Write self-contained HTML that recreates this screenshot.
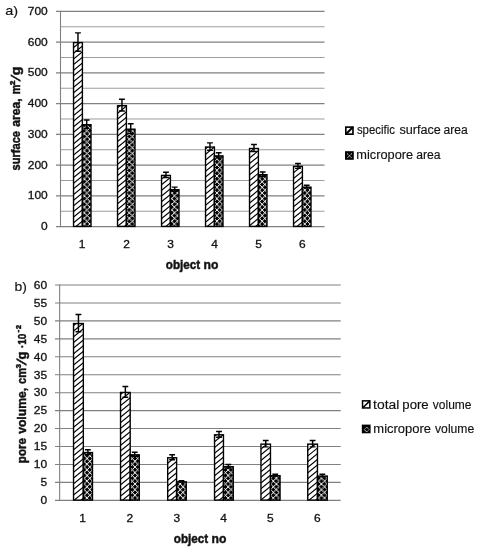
<!DOCTYPE html>
<html lang="en"><head><meta charset="utf-8"><title>Surface area and pore volume charts</title>
<style>
html,body{margin:0;padding:0;background:#fff;}
body{width:482px;height:550px;overflow:hidden;}
svg{display:block;font-family:"Liberation Sans", sans-serif;fill:#111;}
text{stroke:#111;stroke-width:0.15px;paint-order:stroke;}
text.b{stroke-width:0.45px;}
text.d{stroke-width:0.3px;}
</style></head><body>
<svg width="482" height="550" viewBox="0 0 482 550">
<rect width="482" height="550" fill="#fff"/>

<g shape-rendering="auto">
<line x1="60.5" x2="324.5" y1="211.27" y2="211.27" stroke="#9c9c9c" stroke-width="1.1"/>
<line x1="60.5" x2="324.5" y1="180.51" y2="180.51" stroke="#9c9c9c" stroke-width="1.1"/>
<line x1="60.5" x2="324.5" y1="149.76" y2="149.76" stroke="#9c9c9c" stroke-width="1.1"/>
<line x1="60.5" x2="324.5" y1="119.00" y2="119.00" stroke="#9c9c9c" stroke-width="1.1"/>
<line x1="60.5" x2="324.5" y1="88.24" y2="88.24" stroke="#9c9c9c" stroke-width="1.1"/>
<line x1="60.5" x2="324.5" y1="57.49" y2="57.49" stroke="#9c9c9c" stroke-width="1.1"/>
<line x1="60.5" x2="324.5" y1="26.73" y2="26.73" stroke="#9c9c9c" stroke-width="1.1"/>
<line x1="56.0" x2="324.5" y1="226.65" y2="226.65" stroke="#808080" stroke-width="1.1"/>
<line x1="56.0" x2="324.5" y1="195.89" y2="195.89" stroke="#808080" stroke-width="1.1"/>
<line x1="56.0" x2="324.5" y1="165.14" y2="165.14" stroke="#808080" stroke-width="1.1"/>
<line x1="56.0" x2="324.5" y1="134.38" y2="134.38" stroke="#808080" stroke-width="1.1"/>
<line x1="56.0" x2="324.5" y1="103.62" y2="103.62" stroke="#808080" stroke-width="1.1"/>
<line x1="56.0" x2="324.5" y1="72.86" y2="72.86" stroke="#808080" stroke-width="1.1"/>
<line x1="56.0" x2="324.5" y1="42.11" y2="42.11" stroke="#808080" stroke-width="1.1"/>
<line x1="56.0" x2="324.5" y1="11.35" y2="11.35" stroke="#808080" stroke-width="1.1"/>
<line x1="60.5" x2="60.5" y1="10.85" y2="227.15" stroke="#808080" stroke-width="1.1"/>
</g>
<text class="d" x="41.10" y="230.25" font-size="11.2" textLength="6.66" lengthAdjust="spacingAndGlyphs">0</text>
<text class="d" x="27.77" y="199.49" font-size="11.2" textLength="19.99" lengthAdjust="spacingAndGlyphs">100</text>
<text class="d" x="27.77" y="168.74" font-size="11.2" textLength="19.99" lengthAdjust="spacingAndGlyphs">200</text>
<text class="d" x="27.77" y="137.98" font-size="11.2" textLength="19.99" lengthAdjust="spacingAndGlyphs">300</text>
<text class="d" x="27.77" y="107.22" font-size="11.2" textLength="19.99" lengthAdjust="spacingAndGlyphs">400</text>
<text class="d" x="27.77" y="76.46" font-size="11.2" textLength="19.99" lengthAdjust="spacingAndGlyphs">500</text>
<text class="d" x="27.77" y="45.71" font-size="11.2" textLength="19.99" lengthAdjust="spacingAndGlyphs">600</text>
<text class="d" x="27.77" y="14.95" font-size="11.2" textLength="19.99" lengthAdjust="spacingAndGlyphs">700</text>
<text class="d" x="78.70" y="248.3" font-size="11.2" textLength="6.66" lengthAdjust="spacingAndGlyphs">1</text>
<text class="d" x="123.17" y="248.3" font-size="11.2" textLength="6.66" lengthAdjust="spacingAndGlyphs">2</text>
<text class="d" x="167.20" y="248.3" font-size="11.2" textLength="6.66" lengthAdjust="spacingAndGlyphs">3</text>
<text class="d" x="211.21" y="248.3" font-size="11.2" textLength="6.66" lengthAdjust="spacingAndGlyphs">4</text>
<text class="d" x="255.18" y="248.3" font-size="11.2" textLength="6.66" lengthAdjust="spacingAndGlyphs">5</text>
<text class="d" x="299.13" y="248.3" font-size="11.2" textLength="6.66" lengthAdjust="spacingAndGlyphs">6</text>
<clipPath id="ha"><rect x="73.54" y="42.61" width="8.85" height="183.79"/><rect x="117.54" y="105.66" width="8.85" height="120.74"/><rect x="161.54" y="175.42" width="8.85" height="50.98"/><rect x="205.54" y="147.06" width="8.85" height="79.34"/><rect x="249.54" y="148.50" width="8.85" height="77.90"/><rect x="293.54" y="166.40" width="8.85" height="60.00"/></clipPath>
<clipPath id="ca"><rect x="82.39" y="124.73" width="8.60" height="101.67"/><rect x="126.39" y="129.19" width="8.60" height="97.21"/><rect x="170.39" y="189.69" width="8.60" height="36.71"/><rect x="214.39" y="155.92" width="8.60" height="70.48"/><rect x="258.39" y="174.71" width="8.60" height="51.69"/><rect x="302.39" y="187.17" width="8.60" height="39.23"/></clipPath>
<g fill="#fff"><rect x="73.54" y="42.61" width="8.85" height="183.79"/><rect x="117.54" y="105.66" width="8.85" height="120.74"/><rect x="161.54" y="175.42" width="8.85" height="50.98"/><rect x="205.54" y="147.06" width="8.85" height="79.34"/><rect x="249.54" y="148.50" width="8.85" height="77.90"/><rect x="293.54" y="166.40" width="8.85" height="60.00"/></g>
<g fill="#000"><rect x="82.39" y="124.73" width="8.60" height="101.67"/><rect x="126.39" y="129.19" width="8.60" height="97.21"/><rect x="170.39" y="189.69" width="8.60" height="36.71"/><rect x="214.39" y="155.92" width="8.60" height="70.48"/><rect x="258.39" y="174.71" width="8.60" height="51.69"/><rect x="302.39" y="187.17" width="8.60" height="39.23"/></g>
<path clip-path="url(#ha)" d="M60.5 13.11L324.5 -202.84M60.5 18.76L324.5 -197.19M60.5 24.41L324.5 -191.54M60.5 30.06L324.5 -185.89M60.5 35.71L324.5 -180.24M60.5 41.36L324.5 -174.59M60.5 47.01L324.5 -168.94M60.5 52.66L324.5 -163.29M60.5 58.31L324.5 -157.64M60.5 63.96L324.5 -151.99M60.5 69.61L324.5 -146.34M60.5 75.26L324.5 -140.69M60.5 80.91L324.5 -135.04M60.5 86.56L324.5 -129.39M60.5 92.21L324.5 -123.74M60.5 97.86L324.5 -118.09M60.5 103.51L324.5 -112.44M60.5 109.16L324.5 -106.79M60.5 114.81L324.5 -101.14M60.5 120.46L324.5 -95.49M60.5 126.11L324.5 -89.84M60.5 131.76L324.5 -84.19M60.5 137.41L324.5 -78.54M60.5 143.06L324.5 -72.89M60.5 148.71L324.5 -67.24M60.5 154.36L324.5 -61.59M60.5 160.01L324.5 -55.94M60.5 165.66L324.5 -50.29M60.5 171.31L324.5 -44.64M60.5 176.96L324.5 -38.99M60.5 182.61L324.5 -33.34M60.5 188.26L324.5 -27.69M60.5 193.91L324.5 -22.04M60.5 199.56L324.5 -16.39M60.5 205.21L324.5 -10.74M60.5 210.86L324.5 -5.09M60.5 216.51L324.5 0.56M60.5 222.16L324.5 6.21M60.5 227.81L324.5 11.86M60.5 233.46L324.5 17.51M60.5 239.11L324.5 23.16M60.5 244.76L324.5 28.81M60.5 250.41L324.5 34.46M60.5 256.06L324.5 40.11M60.5 261.71L324.5 45.76M60.5 267.36L324.5 51.41M60.5 273.01L324.5 57.06M60.5 278.66L324.5 62.71M60.5 284.31L324.5 68.36M60.5 289.96L324.5 74.01M60.5 295.61L324.5 79.66M60.5 301.26L324.5 85.31M60.5 306.91L324.5 90.96M60.5 312.56L324.5 96.61M60.5 318.21L324.5 102.26M60.5 323.86L324.5 107.91M60.5 329.51L324.5 113.56M60.5 335.16L324.5 119.21M60.5 340.81L324.5 124.86M60.5 346.46L324.5 130.51M60.5 352.11L324.5 136.16M60.5 357.76L324.5 141.81M60.5 363.41L324.5 147.46M60.5 369.06L324.5 153.11M60.5 374.71L324.5 158.76M60.5 380.36L324.5 164.41M60.5 386.01L324.5 170.06M60.5 391.66L324.5 175.71M60.5 397.31L324.5 181.36M60.5 402.96L324.5 187.01M60.5 408.61L324.5 192.66M60.5 414.26L324.5 198.31M60.5 419.91L324.5 203.96M60.5 425.56L324.5 209.61M60.5 431.21L324.5 215.26M60.5 436.86L324.5 220.91M60.5 442.51L324.5 226.56" stroke="#000" stroke-width="1.15" fill="none"/>
<path clip-path="url(#ca)" d="M60.5 10.45L324.5 -253.55M60.5 16.10L324.5 -247.90M60.5 21.75L324.5 -242.25M60.5 27.40L324.5 -236.60M60.5 33.05L324.5 -230.95M60.5 38.70L324.5 -225.30M60.5 44.35L324.5 -219.65M60.5 50.00L324.5 -214.00M60.5 55.65L324.5 -208.35M60.5 61.30L324.5 -202.70M60.5 66.95L324.5 -197.05M60.5 72.60L324.5 -191.40M60.5 78.25L324.5 -185.75M60.5 83.90L324.5 -180.10M60.5 89.55L324.5 -174.45M60.5 95.20L324.5 -168.80M60.5 100.85L324.5 -163.15M60.5 106.50L324.5 -157.50M60.5 112.15L324.5 -151.85M60.5 117.80L324.5 -146.20M60.5 123.45L324.5 -140.55M60.5 129.10L324.5 -134.90M60.5 134.75L324.5 -129.25M60.5 140.40L324.5 -123.60M60.5 146.05L324.5 -117.95M60.5 151.70L324.5 -112.30M60.5 157.35L324.5 -106.65M60.5 163.00L324.5 -101.00M60.5 168.65L324.5 -95.35M60.5 174.30L324.5 -89.70M60.5 179.95L324.5 -84.05M60.5 185.60L324.5 -78.40M60.5 191.25L324.5 -72.75M60.5 196.90L324.5 -67.10M60.5 202.55L324.5 -61.45M60.5 208.20L324.5 -55.80M60.5 213.85L324.5 -50.15M60.5 219.50L324.5 -44.50M60.5 225.15L324.5 -38.85M60.5 230.80L324.5 -33.20M60.5 236.45L324.5 -27.55M60.5 242.10L324.5 -21.90M60.5 247.75L324.5 -16.25M60.5 253.40L324.5 -10.60M60.5 259.05L324.5 -4.95M60.5 264.70L324.5 0.70M60.5 270.35L324.5 6.35M60.5 276.00L324.5 12.00M60.5 281.65L324.5 17.65M60.5 287.30L324.5 23.30M60.5 292.95L324.5 28.95M60.5 298.60L324.5 34.60M60.5 304.25L324.5 40.25M60.5 309.90L324.5 45.90M60.5 315.55L324.5 51.55M60.5 321.20L324.5 57.20M60.5 326.85L324.5 62.85M60.5 332.50L324.5 68.50M60.5 338.15L324.5 74.15M60.5 343.80L324.5 79.80M60.5 349.45L324.5 85.45M60.5 355.10L324.5 91.10M60.5 360.75L324.5 96.75M60.5 366.40L324.5 102.40M60.5 372.05L324.5 108.05M60.5 377.70L324.5 113.70M60.5 383.35L324.5 119.35M60.5 389.00L324.5 125.00M60.5 394.65L324.5 130.65M60.5 400.30L324.5 136.30M60.5 405.95L324.5 141.95M60.5 411.60L324.5 147.60M60.5 417.25L324.5 153.25M60.5 422.90L324.5 158.90M60.5 428.55L324.5 164.55M60.5 434.20L324.5 170.20M60.5 439.85L324.5 175.85M60.5 445.50L324.5 181.50M60.5 451.15L324.5 187.15M60.5 456.80L324.5 192.80M60.5 462.45L324.5 198.45M60.5 468.10L324.5 204.10M60.5 473.75L324.5 209.75M60.5 479.40L324.5 215.40M60.5 485.05L324.5 221.05M60.5 -257.30L324.5 6.70M60.5 -251.65L324.5 12.35M60.5 -246.00L324.5 18.00M60.5 -240.35L324.5 23.65M60.5 -234.70L324.5 29.30M60.5 -229.05L324.5 34.95M60.5 -223.40L324.5 40.60M60.5 -217.75L324.5 46.25M60.5 -212.10L324.5 51.90M60.5 -206.45L324.5 57.55M60.5 -200.80L324.5 63.20M60.5 -195.15L324.5 68.85M60.5 -189.50L324.5 74.50M60.5 -183.85L324.5 80.15M60.5 -178.20L324.5 85.80M60.5 -172.55L324.5 91.45M60.5 -166.90L324.5 97.10M60.5 -161.25L324.5 102.75M60.5 -155.60L324.5 108.40M60.5 -149.95L324.5 114.05M60.5 -144.30L324.5 119.70M60.5 -138.65L324.5 125.35M60.5 -133.00L324.5 131.00M60.5 -127.35L324.5 136.65M60.5 -121.70L324.5 142.30M60.5 -116.05L324.5 147.95M60.5 -110.40L324.5 153.60M60.5 -104.75L324.5 159.25M60.5 -99.10L324.5 164.90M60.5 -93.45L324.5 170.55M60.5 -87.80L324.5 176.20M60.5 -82.15L324.5 181.85M60.5 -76.50L324.5 187.50M60.5 -70.85L324.5 193.15M60.5 -65.20L324.5 198.80M60.5 -59.55L324.5 204.45M60.5 -53.90L324.5 210.10M60.5 -48.25L324.5 215.75M60.5 -42.60L324.5 221.40M60.5 -36.95L324.5 227.05M60.5 -31.30L324.5 232.70M60.5 -25.65L324.5 238.35M60.5 -20.00L324.5 244.00M60.5 -14.35L324.5 249.65M60.5 -8.70L324.5 255.30M60.5 -3.05L324.5 260.95M60.5 2.60L324.5 266.60M60.5 8.25L324.5 272.25M60.5 13.90L324.5 277.90M60.5 19.55L324.5 283.55M60.5 25.20L324.5 289.20M60.5 30.85L324.5 294.85M60.5 36.50L324.5 300.50M60.5 42.15L324.5 306.15M60.5 47.80L324.5 311.80M60.5 53.45L324.5 317.45M60.5 59.10L324.5 323.10M60.5 64.75L324.5 328.75M60.5 70.40L324.5 334.40M60.5 76.05L324.5 340.05M60.5 81.70L324.5 345.70M60.5 87.35L324.5 351.35M60.5 93.00L324.5 357.00M60.5 98.65L324.5 362.65M60.5 104.30L324.5 368.30M60.5 109.95L324.5 373.95M60.5 115.60L324.5 379.60M60.5 121.25L324.5 385.25M60.5 126.90L324.5 390.90M60.5 132.55L324.5 396.55M60.5 138.20L324.5 402.20M60.5 143.85L324.5 407.85M60.5 149.50L324.5 413.50M60.5 155.15L324.5 419.15M60.5 160.80L324.5 424.80M60.5 166.45L324.5 430.45M60.5 172.10L324.5 436.10M60.5 177.75L324.5 441.75M60.5 183.40L324.5 447.40M60.5 189.05L324.5 453.05M60.5 194.70L324.5 458.70M60.5 200.35L324.5 464.35M60.5 206.00L324.5 470.00M60.5 211.65L324.5 475.65M60.5 217.30L324.5 481.30M60.5 222.95L324.5 486.95" stroke="#fff" stroke-width="1.2" stroke-dasharray="1.0 0.55" fill="none"/>
<g fill="none" stroke="#000" stroke-width="1.4"><rect x="73.54" y="42.61" width="8.85" height="183.79"/><rect x="117.54" y="105.66" width="8.85" height="120.74"/><rect x="161.54" y="175.42" width="8.85" height="50.98"/><rect x="205.54" y="147.06" width="8.85" height="79.34"/><rect x="249.54" y="148.50" width="8.85" height="77.90"/><rect x="293.54" y="166.40" width="8.85" height="60.00"/><rect x="82.39" y="124.73" width="8.60" height="101.67"/><rect x="126.39" y="129.19" width="8.60" height="97.21"/><rect x="170.39" y="189.69" width="8.60" height="36.71"/><rect x="214.39" y="155.92" width="8.60" height="70.48"/><rect x="258.39" y="174.71" width="8.60" height="51.69"/><rect x="302.39" y="187.17" width="8.60" height="39.23"/></g>
<path d="M77.97 32.88V51.33M75.06 32.88H80.87M75.06 51.33H80.87M86.69 120.08V128.38M83.79 120.08H89.59M83.79 128.38H89.59M121.97 99.32V111.00M119.06 99.32H124.87M119.06 111.00H124.87M130.69 123.77V133.61M127.79 123.77H133.59M127.79 133.61H133.59M165.97 172.30V177.53M163.06 172.30H168.87M163.06 177.53H168.87M174.69 187.10V191.28M171.79 187.10H177.59M171.79 191.28H177.59M209.97 142.87V150.25M207.06 142.87H212.87M207.06 150.25H212.87M218.69 152.77V158.06M215.79 152.77H221.59M215.79 158.06H221.59M253.97 144.47V151.54M251.07 144.47H256.87M251.07 151.54H256.87M262.69 171.90V176.52M259.79 171.90H265.59M259.79 176.52H265.59M297.97 163.44V168.37M295.07 163.44H300.87M295.07 168.37H300.87M306.69 185.28V188.05M303.79 185.28H309.59M303.79 188.05H309.59" stroke="#000" stroke-width="1.45" fill="none"/>
<text x="5.28" y="15.2" font-size="13.4" textLength="12.92" lengthAdjust="spacingAndGlyphs">a)</text>
<text x="165.74" y="268.9" font-size="12.5" font-weight="bold" class="b" textLength="34.50" lengthAdjust="spacingAndGlyphs">object</text>
<text x="203.60" y="268.9" font-size="12.5" font-weight="bold" class="b" textLength="14.88" lengthAdjust="spacingAndGlyphs">no</text>
<text transform="translate(20.0 170.39) rotate(-90)" font-size="12.5" font-weight="bold" class="b" textLength="39.37" lengthAdjust="spacingAndGlyphs">surface</text>
<text transform="translate(20.0 126.66) rotate(-90)" font-size="12.5" font-weight="bold" class="b" textLength="28.37" lengthAdjust="spacingAndGlyphs">area,</text>
<text transform="translate(20.0 94.32) rotate(-90)" font-size="12.5" font-weight="bold" class="b" textLength="9.69" lengthAdjust="spacingAndGlyphs">m</text>
<text transform="translate(19.55 85.36) rotate(-90)" font-size="14.0" font-weight="bold" class="b" textLength="4.76" lengthAdjust="spacingAndGlyphs">²</text>
<text transform="translate(20.0 81.4) rotate(-90) skewX(-22)" font-size="12.5" font-weight="bold" class="b">/</text>
<text transform="translate(20.0 75.18) rotate(-90)" font-size="12.5" font-weight="bold" class="b" textLength="8.62" lengthAdjust="spacingAndGlyphs">g</text>
<text x="356.88" y="134.35" font-size="12.5" textLength="38.12" lengthAdjust="spacingAndGlyphs">specific</text>
<text x="399.45" y="134.35" font-size="12.5" textLength="41.41" lengthAdjust="spacingAndGlyphs">surface</text>
<text x="443.49" y="134.35" font-size="12.5" textLength="24.21" lengthAdjust="spacingAndGlyphs">area</text>
<text x="356.35" y="158.9" font-size="12.5" textLength="56.82" lengthAdjust="spacingAndGlyphs">micropore</text>
<text x="416.28" y="158.9" font-size="12.5" textLength="24.32" lengthAdjust="spacingAndGlyphs">area</text>
<rect x="345.82" y="127.12" width="7.15" height="7.05" fill="#fff" stroke="#000" stroke-width="1.65"/>
<path d="M345.82 134.18L352.98 127.12" stroke="#000" stroke-width="2.1" fill="none"/>
<rect x="345.82" y="152.02" width="7.15" height="6.95" fill="#000" stroke="#000" stroke-width="1.65"/>
<path d="M347.20 153.50L351.80 158.10M351.80 153.50L347.20 158.10" stroke="#fff" stroke-width="1.0" stroke-dasharray="1.1 0.5" fill="none"/>
<g shape-rendering="auto">
<line x1="55.0" x2="340.7" y1="500.35" y2="500.35" stroke="#808080" stroke-width="1.1"/>
<line x1="55.0" x2="340.7" y1="482.40" y2="482.40" stroke="#808080" stroke-width="1.1"/>
<line x1="55.0" x2="340.7" y1="464.46" y2="464.46" stroke="#808080" stroke-width="1.1"/>
<line x1="55.0" x2="340.7" y1="446.51" y2="446.51" stroke="#808080" stroke-width="1.1"/>
<line x1="55.0" x2="340.7" y1="428.57" y2="428.57" stroke="#808080" stroke-width="1.1"/>
<line x1="55.0" x2="340.7" y1="410.62" y2="410.62" stroke="#808080" stroke-width="1.1"/>
<line x1="55.0" x2="340.7" y1="392.68" y2="392.68" stroke="#808080" stroke-width="1.1"/>
<line x1="55.0" x2="340.7" y1="374.73" y2="374.73" stroke="#808080" stroke-width="1.1"/>
<line x1="55.0" x2="340.7" y1="356.78" y2="356.78" stroke="#808080" stroke-width="1.1"/>
<line x1="55.0" x2="340.7" y1="338.84" y2="338.84" stroke="#808080" stroke-width="1.1"/>
<line x1="55.0" x2="340.7" y1="320.89" y2="320.89" stroke="#808080" stroke-width="1.1"/>
<line x1="55.0" x2="340.7" y1="302.95" y2="302.95" stroke="#808080" stroke-width="1.1"/>
<line x1="55.0" x2="340.7" y1="285.00" y2="285.00" stroke="#808080" stroke-width="1.1"/>
<line x1="59.65" x2="59.65" y1="284.50" y2="500.85" stroke="#808080" stroke-width="1.1"/>
</g>
<text class="d" x="40.40" y="504.15" font-size="11.2" textLength="6.66" lengthAdjust="spacingAndGlyphs">0</text>
<text class="d" x="40.44" y="486.20" font-size="11.2" textLength="6.66" lengthAdjust="spacingAndGlyphs">5</text>
<text class="d" x="33.74" y="468.26" font-size="11.2" textLength="13.33" lengthAdjust="spacingAndGlyphs">10</text>
<text class="d" x="33.77" y="450.31" font-size="11.2" textLength="13.33" lengthAdjust="spacingAndGlyphs">15</text>
<text class="d" x="33.74" y="432.37" font-size="11.2" textLength="13.33" lengthAdjust="spacingAndGlyphs">20</text>
<text class="d" x="33.77" y="414.42" font-size="11.2" textLength="13.33" lengthAdjust="spacingAndGlyphs">25</text>
<text class="d" x="33.74" y="396.48" font-size="11.2" textLength="13.33" lengthAdjust="spacingAndGlyphs">30</text>
<text class="d" x="33.77" y="378.53" font-size="11.2" textLength="13.33" lengthAdjust="spacingAndGlyphs">35</text>
<text class="d" x="33.74" y="360.58" font-size="11.2" textLength="13.33" lengthAdjust="spacingAndGlyphs">40</text>
<text class="d" x="33.77" y="342.64" font-size="11.2" textLength="13.33" lengthAdjust="spacingAndGlyphs">45</text>
<text class="d" x="33.74" y="324.69" font-size="11.2" textLength="13.33" lengthAdjust="spacingAndGlyphs">50</text>
<text class="d" x="33.77" y="306.75" font-size="11.2" textLength="13.33" lengthAdjust="spacingAndGlyphs">55</text>
<text class="d" x="33.74" y="288.80" font-size="11.2" textLength="13.33" lengthAdjust="spacingAndGlyphs">60</text>
<text class="d" x="79.27" y="522.1" font-size="11.2" textLength="6.66" lengthAdjust="spacingAndGlyphs">1</text>
<text class="d" x="126.58" y="522.1" font-size="11.2" textLength="6.66" lengthAdjust="spacingAndGlyphs">2</text>
<text class="d" x="173.46" y="522.1" font-size="11.2" textLength="6.66" lengthAdjust="spacingAndGlyphs">3</text>
<text class="d" x="220.30" y="522.1" font-size="11.2" textLength="6.66" lengthAdjust="spacingAndGlyphs">4</text>
<text class="d" x="267.12" y="522.1" font-size="11.2" textLength="6.66" lengthAdjust="spacingAndGlyphs">5</text>
<text class="d" x="313.91" y="522.1" font-size="11.2" textLength="6.66" lengthAdjust="spacingAndGlyphs">6</text>
<clipPath id="hb"><rect x="73.54" y="323.55" width="9.79" height="176.55"/><rect x="120.54" y="392.46" width="9.64" height="107.64"/><rect x="167.69" y="457.78" width="8.91" height="42.32"/><rect x="214.54" y="434.81" width="8.92" height="65.29"/><rect x="260.96" y="444.14" width="9.50" height="55.96"/><rect x="307.75" y="444.14" width="9.70" height="55.96"/></clipPath>
<clipPath id="cb"><rect x="83.33" y="452.58" width="9.15" height="47.52"/><rect x="130.18" y="454.84" width="9.08" height="45.26"/><rect x="176.60" y="481.83" width="9.66" height="18.27"/><rect x="223.46" y="466.75" width="9.80" height="33.35"/><rect x="270.46" y="475.73" width="9.58" height="24.37"/><rect x="317.45" y="476.08" width="9.81" height="24.02"/></clipPath>
<g fill="#fff"><rect x="73.54" y="323.55" width="9.79" height="176.55"/><rect x="120.54" y="392.46" width="9.64" height="107.64"/><rect x="167.69" y="457.78" width="8.91" height="42.32"/><rect x="214.54" y="434.81" width="8.92" height="65.29"/><rect x="260.96" y="444.14" width="9.50" height="55.96"/><rect x="307.75" y="444.14" width="9.70" height="55.96"/></g>
<g fill="#000"><rect x="83.33" y="452.58" width="9.15" height="47.52"/><rect x="130.18" y="454.84" width="9.08" height="45.26"/><rect x="176.60" y="481.83" width="9.66" height="18.27"/><rect x="223.46" y="466.75" width="9.80" height="33.35"/><rect x="270.46" y="475.73" width="9.58" height="24.37"/><rect x="317.45" y="476.08" width="9.81" height="24.02"/></g>
<path clip-path="url(#hb)" d="M59.6 286.06L340.7 56.16M59.6 291.71L340.7 61.81M59.6 297.36L340.7 67.46M59.6 303.01L340.7 73.11M59.6 308.66L340.7 78.76M59.6 314.31L340.7 84.41M59.6 319.96L340.7 90.06M59.6 325.61L340.7 95.71M59.6 331.26L340.7 101.36M59.6 336.91L340.7 107.01M59.6 342.56L340.7 112.66M59.6 348.21L340.7 118.31M59.6 353.86L340.7 123.96M59.6 359.51L340.7 129.61M59.6 365.16L340.7 135.26M59.6 370.81L340.7 140.91M59.6 376.46L340.7 146.56M59.6 382.11L340.7 152.21M59.6 387.76L340.7 157.86M59.6 393.41L340.7 163.51M59.6 399.06L340.7 169.16M59.6 404.71L340.7 174.81M59.6 410.36L340.7 180.46M59.6 416.01L340.7 186.11M59.6 421.66L340.7 191.76M59.6 427.31L340.7 197.41M59.6 432.96L340.7 203.06M59.6 438.61L340.7 208.71M59.6 444.26L340.7 214.36M59.6 449.91L340.7 220.01M59.6 455.56L340.7 225.66M59.6 461.21L340.7 231.31M59.6 466.86L340.7 236.96M59.6 472.51L340.7 242.61M59.6 478.16L340.7 248.26M59.6 483.81L340.7 253.91M59.6 489.46L340.7 259.56M59.6 495.11L340.7 265.21M59.6 500.76L340.7 270.86M59.6 506.41L340.7 276.51M59.6 512.06L340.7 282.16M59.6 517.71L340.7 287.81M59.6 523.36L340.7 293.46M59.6 529.01L340.7 299.11M59.6 534.66L340.7 304.76M59.6 540.31L340.7 310.41M59.6 545.96L340.7 316.06M59.6 551.61L340.7 321.71M59.6 557.26L340.7 327.36M59.6 562.91L340.7 333.01M59.6 568.56L340.7 338.66M59.6 574.21L340.7 344.31M59.6 579.86L340.7 349.96M59.6 585.51L340.7 355.61M59.6 591.16L340.7 361.26M59.6 596.81L340.7 366.91M59.6 602.46L340.7 372.56M59.6 608.11L340.7 378.21M59.6 613.76L340.7 383.86M59.6 619.41L340.7 389.51M59.6 625.06L340.7 395.16M59.6 630.71L340.7 400.81M59.6 636.36L340.7 406.46M59.6 642.01L340.7 412.11M59.6 647.66L340.7 417.76M59.6 653.31L340.7 423.41M59.6 658.96L340.7 429.06M59.6 664.61L340.7 434.71M59.6 670.26L340.7 440.36M59.6 675.91L340.7 446.01M59.6 681.56L340.7 451.66M59.6 687.21L340.7 457.31M59.6 692.86L340.7 462.96M59.6 698.51L340.7 468.61M59.6 704.16L340.7 474.26M59.6 709.81L340.7 479.91M59.6 715.46L340.7 485.56M59.6 721.11L340.7 491.21M59.6 726.76L340.7 496.86" stroke="#000" stroke-width="1.15" fill="none"/>
<path clip-path="url(#cb)" d="M59.6 276.85L340.7 -4.20M59.6 282.50L340.7 1.45M59.6 288.15L340.7 7.10M59.6 293.80L340.7 12.75M59.6 299.45L340.7 18.40M59.6 305.10L340.7 24.05M59.6 310.75L340.7 29.70M59.6 316.40L340.7 35.35M59.6 322.05L340.7 41.00M59.6 327.70L340.7 46.65M59.6 333.35L340.7 52.30M59.6 339.00L340.7 57.95M59.6 344.65L340.7 63.60M59.6 350.30L340.7 69.25M59.6 355.95L340.7 74.90M59.6 361.60L340.7 80.55M59.6 367.25L340.7 86.20M59.6 372.90L340.7 91.85M59.6 378.55L340.7 97.50M59.6 384.20L340.7 103.15M59.6 389.85L340.7 108.80M59.6 395.50L340.7 114.45M59.6 401.15L340.7 120.10M59.6 406.80L340.7 125.75M59.6 412.45L340.7 131.40M59.6 418.10L340.7 137.05M59.6 423.75L340.7 142.70M59.6 429.40L340.7 148.35M59.6 435.05L340.7 154.00M59.6 440.70L340.7 159.65M59.6 446.35L340.7 165.30M59.6 452.00L340.7 170.95M59.6 457.65L340.7 176.60M59.6 463.30L340.7 182.25M59.6 468.95L340.7 187.90M59.6 474.60L340.7 193.55M59.6 480.25L340.7 199.20M59.6 485.90L340.7 204.85M59.6 491.55L340.7 210.50M59.6 497.20L340.7 216.15M59.6 502.85L340.7 221.80M59.6 508.50L340.7 227.45M59.6 514.15L340.7 233.10M59.6 519.80L340.7 238.75M59.6 525.45L340.7 244.40M59.6 531.10L340.7 250.05M59.6 536.75L340.7 255.70M59.6 542.40L340.7 261.35M59.6 548.05L340.7 267.00M59.6 553.70L340.7 272.65M59.6 559.35L340.7 278.30M59.6 565.00L340.7 283.95M59.6 570.65L340.7 289.60M59.6 576.30L340.7 295.25M59.6 581.95L340.7 300.90M59.6 587.60L340.7 306.55M59.6 593.25L340.7 312.20M59.6 598.90L340.7 317.85M59.6 604.55L340.7 323.50M59.6 610.20L340.7 329.15M59.6 615.85L340.7 334.80M59.6 621.50L340.7 340.45M59.6 627.15L340.7 346.10M59.6 632.80L340.7 351.75M59.6 638.45L340.7 357.40M59.6 644.10L340.7 363.05M59.6 649.75L340.7 368.70M59.6 655.40L340.7 374.35M59.6 661.05L340.7 380.00M59.6 666.70L340.7 385.65M59.6 672.35L340.7 391.30M59.6 678.00L340.7 396.95M59.6 683.65L340.7 402.60M59.6 689.30L340.7 408.25M59.6 694.95L340.7 413.90M59.6 700.60L340.7 419.55M59.6 706.25L340.7 425.20M59.6 711.90L340.7 430.85M59.6 717.55L340.7 436.50M59.6 723.20L340.7 442.15M59.6 728.85L340.7 447.80M59.6 734.50L340.7 453.45M59.6 740.15L340.7 459.10M59.6 745.80L340.7 464.75M59.6 751.45L340.7 470.40M59.6 757.10L340.7 476.05M59.6 762.75L340.7 481.70M59.6 768.40L340.7 487.35M59.6 774.05L340.7 493.00M59.6 779.70L340.7 498.65M59.6 1.75L340.7 282.80M59.6 7.40L340.7 288.45M59.6 13.05L340.7 294.10M59.6 18.70L340.7 299.75M59.6 24.35L340.7 305.40M59.6 30.00L340.7 311.05M59.6 35.65L340.7 316.70M59.6 41.30L340.7 322.35M59.6 46.95L340.7 328.00M59.6 52.60L340.7 333.65M59.6 58.25L340.7 339.30M59.6 63.90L340.7 344.95M59.6 69.55L340.7 350.60M59.6 75.20L340.7 356.25M59.6 80.85L340.7 361.90M59.6 86.50L340.7 367.55M59.6 92.15L340.7 373.20M59.6 97.80L340.7 378.85M59.6 103.45L340.7 384.50M59.6 109.10L340.7 390.15M59.6 114.75L340.7 395.80M59.6 120.40L340.7 401.45M59.6 126.05L340.7 407.10M59.6 131.70L340.7 412.75M59.6 137.35L340.7 418.40M59.6 143.00L340.7 424.05M59.6 148.65L340.7 429.70M59.6 154.30L340.7 435.35M59.6 159.95L340.7 441.00M59.6 165.60L340.7 446.65M59.6 171.25L340.7 452.30M59.6 176.90L340.7 457.95M59.6 182.55L340.7 463.60M59.6 188.20L340.7 469.25M59.6 193.85L340.7 474.90M59.6 199.50L340.7 480.55M59.6 205.15L340.7 486.20M59.6 210.80L340.7 491.85M59.6 216.45L340.7 497.50M59.6 222.10L340.7 503.15M59.6 227.75L340.7 508.80M59.6 233.40L340.7 514.45M59.6 239.05L340.7 520.10M59.6 244.70L340.7 525.75M59.6 250.35L340.7 531.40M59.6 256.00L340.7 537.05M59.6 261.65L340.7 542.70M59.6 267.30L340.7 548.35M59.6 272.95L340.7 554.00M59.6 278.60L340.7 559.65M59.6 284.25L340.7 565.30M59.6 289.90L340.7 570.95M59.6 295.55L340.7 576.60M59.6 301.20L340.7 582.25M59.6 306.85L340.7 587.90M59.6 312.50L340.7 593.55M59.6 318.15L340.7 599.20M59.6 323.80L340.7 604.85M59.6 329.45L340.7 610.50M59.6 335.10L340.7 616.15M59.6 340.75L340.7 621.80M59.6 346.40L340.7 627.45M59.6 352.05L340.7 633.10M59.6 357.70L340.7 638.75M59.6 363.35L340.7 644.40M59.6 369.00L340.7 650.05M59.6 374.65L340.7 655.70M59.6 380.30L340.7 661.35M59.6 385.95L340.7 667.00M59.6 391.60L340.7 672.65M59.6 397.25L340.7 678.30M59.6 402.90L340.7 683.95M59.6 408.55L340.7 689.60M59.6 414.20L340.7 695.25M59.6 419.85L340.7 700.90M59.6 425.50L340.7 706.55M59.6 431.15L340.7 712.20M59.6 436.80L340.7 717.85M59.6 442.45L340.7 723.50M59.6 448.10L340.7 729.15M59.6 453.75L340.7 734.80M59.6 459.40L340.7 740.45M59.6 465.05L340.7 746.10M59.6 470.70L340.7 751.75M59.6 476.35L340.7 757.40M59.6 482.00L340.7 763.05M59.6 487.65L340.7 768.70M59.6 493.30L340.7 774.35M59.6 498.95L340.7 780.00" stroke="#fff" stroke-width="1.2" stroke-dasharray="1.0 0.55" fill="none"/>
<g fill="none" stroke="#000" stroke-width="1.4"><rect x="73.54" y="323.55" width="9.79" height="176.55"/><rect x="120.54" y="392.46" width="9.64" height="107.64"/><rect x="167.69" y="457.78" width="8.91" height="42.32"/><rect x="214.54" y="434.81" width="8.92" height="65.29"/><rect x="260.96" y="444.14" width="9.50" height="55.96"/><rect x="307.75" y="444.14" width="9.70" height="55.96"/><rect x="83.33" y="452.58" width="9.15" height="47.52"/><rect x="130.18" y="454.84" width="9.08" height="45.26"/><rect x="176.60" y="481.83" width="9.66" height="18.27"/><rect x="223.46" y="466.75" width="9.80" height="33.35"/><rect x="270.46" y="475.73" width="9.58" height="24.37"/><rect x="317.45" y="476.08" width="9.81" height="24.02"/></g>
<path d="M78.44 314.43V331.66M75.53 314.43H81.34M75.53 331.66H81.34M87.91 449.74V454.41M85.00 449.74H90.81M85.00 454.41H90.81M125.36 386.57V397.34M122.46 386.57H128.26M122.46 397.34H128.26M134.72 452.18V456.49M131.82 452.18H137.62M131.82 456.49H137.62M172.15 454.77V459.79M169.25 454.77H175.05M169.25 459.79H175.05M181.43 480.61V482.05M178.53 480.61H184.33M178.53 482.05H184.33M219.00 431.44V437.18M216.10 431.44H221.90M216.10 437.18H221.90M228.36 464.46V468.05M225.46 464.46H231.26M225.46 468.05H231.26M265.71 440.41V446.87M262.81 440.41H268.61M262.81 446.87H268.61M275.25 474.15V476.30M272.35 474.15H278.15M272.35 476.30H278.15M312.60 440.41V446.87M309.70 440.41H315.50M309.70 446.87H315.50M322.36 474.33V476.84M319.46 474.33H325.25M319.46 476.84H325.25" stroke="#000" stroke-width="1.45" fill="none"/>
<text x="14.60" y="291.4" font-size="13.4" textLength="12.36" lengthAdjust="spacingAndGlyphs">b)</text>
<text x="173.74" y="542.7" font-size="12.5" font-weight="bold" class="b" textLength="34.50" lengthAdjust="spacingAndGlyphs">object</text>
<text x="211.60" y="542.7" font-size="12.5" font-weight="bold" class="b" textLength="14.88" lengthAdjust="spacingAndGlyphs">no</text>
<text transform="translate(25.6 463.16) rotate(-90)" font-size="12.8" font-weight="bold" class="b" textLength="25.06" lengthAdjust="spacingAndGlyphs">pore</text>
<text transform="translate(25.6 433.85) rotate(-90)" font-size="12.8" font-weight="bold" class="b" textLength="45.96" lengthAdjust="spacingAndGlyphs">volume,</text>
<text transform="translate(25.6 383.93) rotate(-90)" font-size="12.8" font-weight="bold" class="b" textLength="16.02" lengthAdjust="spacingAndGlyphs">cm</text>
<text transform="translate(25.6 368.59) rotate(-90)" font-size="14.8" font-weight="bold" class="b" textLength="4.48" lengthAdjust="spacingAndGlyphs">³</text>
<text transform="translate(25.6 365.6) rotate(-90) skewX(-22)" font-size="12.8" font-weight="bold" class="b">/</text>
<text transform="translate(25.6 359.53) rotate(-90)" font-size="12.8" font-weight="bold" class="b" textLength="7.89" lengthAdjust="spacingAndGlyphs">g</text>
<text transform="translate(25.6 347.99) rotate(-90)" font-size="10.9" font-weight="bold" class="b" textLength="14.39" lengthAdjust="spacingAndGlyphs">·10</text>
<text transform="translate(26.1 332.81) rotate(-90)" font-size="14.8" font-weight="bold" class="b" font-family="DejaVu Sans, sans-serif" textLength="3.21" lengthAdjust="spacingAndGlyphs">⁻</text>
<text transform="translate(26.0 329.33) rotate(-90)" font-size="14.8" font-weight="bold" class="b" textLength="4.41" lengthAdjust="spacingAndGlyphs">²</text>
<text x="373.09" y="408.65" font-size="12.5" textLength="26.24" lengthAdjust="spacingAndGlyphs">total</text>
<text x="402.35" y="408.65" font-size="12.5" textLength="26.33" lengthAdjust="spacingAndGlyphs">pore</text>
<text x="432.86" y="408.65" font-size="12.5" textLength="38.67" lengthAdjust="spacingAndGlyphs">volume</text>
<text x="373.34" y="432.75" font-size="12.5" textLength="57.64" lengthAdjust="spacingAndGlyphs">micropore</text>
<text x="435.06" y="432.75" font-size="12.5" textLength="39.18" lengthAdjust="spacingAndGlyphs">volume</text>
<rect x="362.55" y="400.85" width="7.30" height="7.10" fill="#fff" stroke="#000" stroke-width="1.5"/>
<path d="M362.55 407.95L369.85 400.85" stroke="#000" stroke-width="1.5" fill="none"/>
<rect x="362.60" y="425.40" width="7.20" height="7.10" fill="#000" stroke="#000" stroke-width="1.6"/>
<path d="M366.70 427.15L369.10 429.55L366.70 431.95L364.30 429.55Z" stroke="#fff" stroke-width="1.0" stroke-dasharray="1.1 0.6" fill="none"/>
</svg></body></html>
